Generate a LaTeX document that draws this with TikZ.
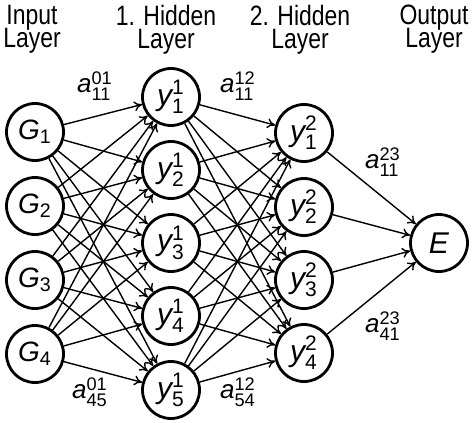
\documentclass[tikz,border=0pt]{standalone}
\usepackage{amsmath}
\usepackage{fontspec}
\setmainfont{Liberation Sans}
\newfontfamily\narrowfont[FakeStretch=0.82]{Liberation Sans}
\newcommand\titlefont{\narrowfont\fontsize{14}{11.5}\selectfont\lineskiplimit=-20pt\relax}
\usetikzlibrary{arrows.meta}

\begin{document}
\begin{tikzpicture}[x=0.5pt,y=-0.5pt,
        neuron/.style={circle,draw,line width=1.4pt,minimum size=28.5pt,inner sep=0pt},
        link/.style={-{To[length=4pt,width=5pt]},line width=0.7pt},
        header/.style={font=\titlefont,align=center,anchor=north,inner sep=0pt},
        weight/.style={font=\fontsize{13}{15}\selectfont,inner sep=0pt}]
        \useasboundingbox (0,0) rectangle (474,422);
        % layer titles
        \node[header] (tin) at (32,5) {Input\\Layer};
        \node[header] (thida) at (166,5) {1. Hidden\\Layer};
        \node[header] (thidb) at (300,5) {2. Hidden\\Layer};
        \node[header] (tout) at (434,5) {Output\\Layer};
        % neurons
        \foreach \i/\yy in {1/132,2/206,3/280,4/354}
            \node[neuron,font=\fontsize{14}{16}\selectfont] (g\i) at (35,\yy) {$\textit{G}_{\text{\i}}$};
        \foreach \i/\yy in {1/97,2/170,3/243,4/316,5/390}
            \node[neuron,font=\fontsize{15}{18}\selectfont] (ya\i) at (171,\yy) {$\textit{y}^{\text{1}}_{\text{\i}}$};
        \foreach \i/\yy in {1/133,2/207,3/280,4/353}
            \node[neuron,font=\fontsize{15}{18}\selectfont] (yb\i) at (304,\yy) {$\textit{y}^{\text{2}}_{\text{\i}}$};
        \node[neuron,font=\fontsize{15}{18}\selectfont] (e) at (439,243) {\textit{E}};
        % connections
        \foreach \i in {1,...,4}
            \foreach \j in {1,...,5}
                \draw[link] (g\i) -- (ya\j);
        \foreach \i in {1,...,5}
            \foreach \j in {1,...,4}
                \draw[link] (ya\i) -- (yb\j);
        \foreach \i in {1,...,4}
            \draw[link] (yb\i) -- (e);
        % weights
        \node[weight] (w01a) at (95,86) {$\textit{a}^{\text{01}}_{\text{11}}$};
        \node[weight] (w12a) at (238,86) {$\textit{a}^{\text{12}}_{\text{11}}$};
        \node[weight] (w23a) at (383,162) {$\textit{a}^{\text{23}}_{\text{11}}$};
        \node[weight] (w23b) at (383,326) {$\textit{a}^{\text{23}}_{\text{41}}$};
        \node[weight] (w01b) at (90,392) {$\textit{a}^{\text{01}}_{\text{45}}$};
        \node[weight] (w12b) at (238,392) {$\textit{a}^{\text{12}}_{\text{54}}$};
    \end{tikzpicture}
\end{document}
